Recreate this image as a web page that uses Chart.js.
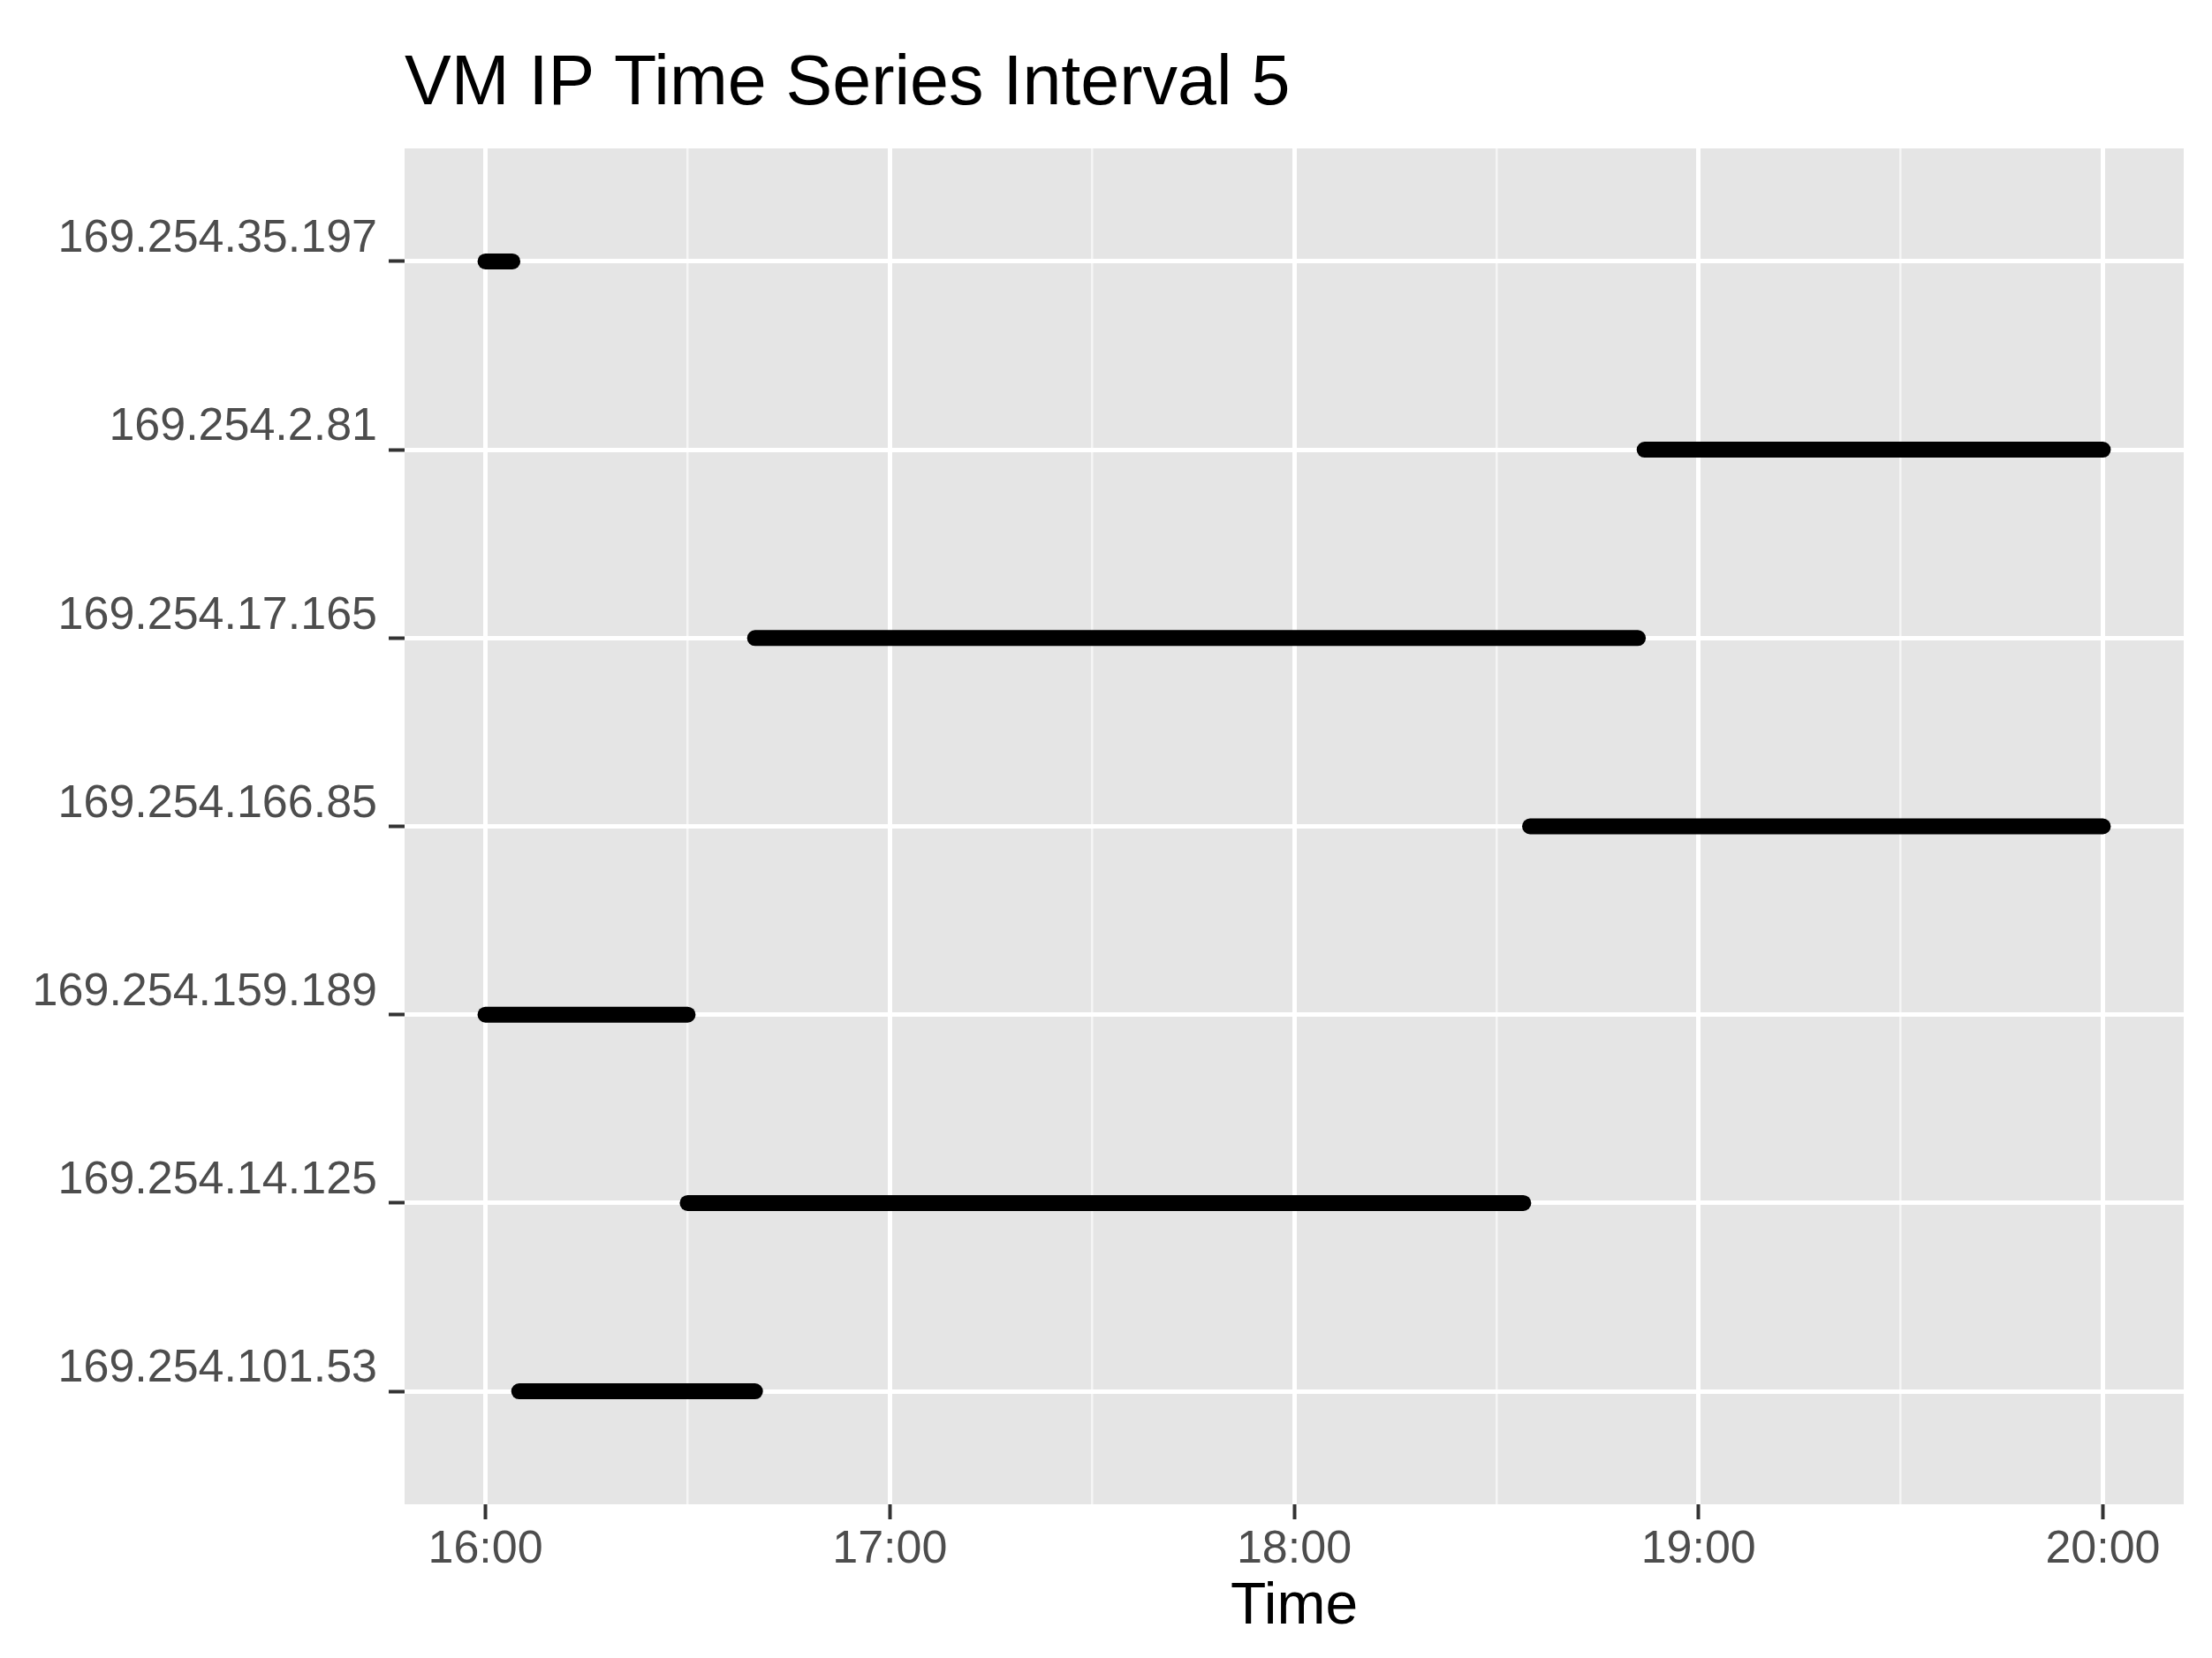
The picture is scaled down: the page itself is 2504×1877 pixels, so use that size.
<!DOCTYPE html>
<html>
<head>
<meta charset="utf-8">
<script src="https://cdn.jsdelivr.net/npm/chart.js@4.4.1/dist/chart.umd.min.js"></script>
<style>
  html, body { margin: 0; padding: 0; background: #fff; }
  canvas { display: block; }
</style>
</head>
<body>
<canvas id="ipChart" width="2504" height="1877"></canvas>
<script>
// top to bottom on the y axis
const ips = ["169.254.35.197", "169.254.2.81", "169.254.17.165", "169.254.166.85",
             "169.254.159.189", "169.254.14.125", "169.254.101.53"];
const startTimes = ["16:00", "18:52", "16:40", "18:35", "16:00", "16:30", "16:05"];
const endTimes   = ["16:04", "20:00", "18:51", "20:00", "16:30", "18:34", "16:40"];
const hourTicks  = ["16:00", "17:00", "18:00", "19:00", "20:00"];

const FONT = '"Liberation Sans", Arial, Helvetica, sans-serif';

// minutes after 16:00
const toMin = t => {
  const [h, m] = t.split(":").map(Number);
  return (h - 16) * 60 + m;
};
const toLabel = v => {
  const h = 16 + Math.floor(v / 60), m = v % 60;
  return h + ":" + String(m).padStart(2, "0");
};

const datasets = ips.map((ip, i) => ({
  label: ip,
  data: [{ x: toMin(startTimes[i]), y: i }, { x: toMin(endTimes[i]), y: i }],
  showLine: true,
  borderColor: "#000",
  backgroundColor: "#000",
  borderWidth: 18,
  borderCapStyle: "round",
  pointRadius: 0
}));

const panelBg = {
  id: "panelBg",
  beforeDraw(chart) {
    const { ctx, chartArea: a } = chart;
    ctx.save();
    ctx.fillStyle = "#E5E5E5";
    ctx.fillRect(a.left, a.top, a.right - a.left, a.bottom - a.top);
    ctx.restore();
  }
};

const plotTitle = {
  id: "plotTitle",
  afterDraw(chart) {
    const { ctx, chartArea: a } = chart;
    ctx.save();
    ctx.font = "79px " + FONT;
    ctx.fillStyle = "#000";
    ctx.textBaseline = "alphabetic";
    ctx.textAlign = "left";
    ctx.fillText("VM IP Time Series Interval 5", a.left, 118);
    ctx.restore();
  }
};

const isHour = ctx => ctx.tick && ctx.tick.value % 60 === 0;

new Chart(document.getElementById("ipChart"), {
  type: "scatter",
  data: { datasets: datasets },
  plugins: [panelBg, plotTitle],
  options: {
    responsive: false,
    devicePixelRatio: 1,
    animation: false,
    layout: { padding: { top: 168, right: 32, left: 0, bottom: 0 } },
    plugins: { legend: { display: false }, tooltip: { enabled: false } },
    scales: {
      x: {
        type: "linear",
        min: -12,
        max: 252,
        afterBuildTicks: s => {
          const t = [];
          for (let v = 0; v <= 240; v += 30) t.push({ value: v });
          s.ticks = t;
        },
        afterFit: s => { s.height = 174; },
        border: { display: false },
        grid: {
          color: ctx => isHour(ctx) ? "#FFFFFF" : "#F5F5F5",
          lineWidth: ctx => isHour(ctx) ? 5 : 2.5,
          tickColor: ctx => isHour(ctx) ? "#333333" : "rgba(0,0,0,0)",
          tickWidth: 4,
          tickLength: 17
        },
        ticks: {
          autoSkip: false,
          maxRotation: 0,
          padding: 3,
          color: "#4D4D4D",
          font: { family: FONT, size: 52 },
          callback: v => hourTicks.includes(toLabel(v)) ? toLabel(v) : ""
        },
        title: {
          display: true,
          text: "Time",
          color: "#000",
          font: { family: FONT, size: 66 },
          padding: { top: 0, bottom: 18 }
        }
      },
      y: {
        type: "linear",
        reverse: true,
        min: -0.6,
        max: ips.length - 0.4,
        afterBuildTicks: s => { s.ticks = ips.map((_, i) => ({ value: i })); },
        afterFit: s => { s.width = 458; },
        border: { display: false },
        grid: {
          color: "#FFFFFF",
          lineWidth: 5,
          tickColor: "#333333",
          tickWidth: 4,
          tickLength: 18
        },
        ticks: {
          autoSkip: false,
          padding: 13,
          labelOffset: -25,
          color: "#4D4D4D",
          font: { family: FONT, size: 52 },
          callback: v => ips[v]
        }
      }
    }
  }
});
</script>
</body>
</html>
